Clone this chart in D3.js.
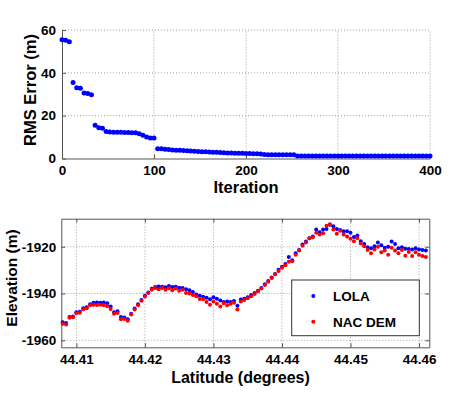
<!doctype html>
<html>
<head>
<meta charset="utf-8">
<title>RMS error and elevation profile</title>
<script src="https://d3js.org/d3.v7.min.js"></script>
<style>
body{margin:0;background:#fff;}
text{font-family:"Liberation Sans",Arial,Helvetica,sans-serif;font-weight:bold;fill:#000;}
</style>
</head>
<body>
<script>
// ---- top panel: RMS error vs iteration (sampled every 4 iterations)
var iterStep = 4;
var rmsError = [
  55.5,55.2,54.5,35.5,33.0,32.8,30.6,30.4,29.8,15.5,
  14.3,14.1,12.6,12.4,12.3,12.2,12.2,12.1,12.1,12.0,
  12.0,11.6,10.8,10.0,9.6,9.6,4.6,4.5,4.3,4.2,
  4.0,3.9,3.8,3.7,3.6,3.5,3.4,3.3,3.2,3.1,
  3.0,2.9,2.9,2.8,2.7,2.6,2.6,2.5,2.4,2.4,
  2.3,2.3,2.2,2.2,2.1,1.9,1.8,1.8,1.8,1.8,
  1.8,1.8,1.8,1.7,1.2,1.2,1.2,1.2,1.2,1.2,
  1.2,1.2,1.2,1.2,1.2,1.2,1.2,1.2,1.2,1.2,
  1.2,1.2,1.2,1.2,1.2,1.2,1.2,1.2,1.2,1.2,
  1.2,1.2,1.2,1.2,1.2,1.2,1.2,1.2,1.2,1.2,1.2
];
var iterTicks = [0,100,200,300,400];
var rmsTicks = [0,20,40,60];

// ---- bottom panel: elevation profile
var latStart = 44.4080, latStep = 0.0005;
var lola = [
  -1952.3,-1952.6,-1950.0,-1949.8,-1948.0,-1947.8,-1946.3,-1945.9,-1944.6,-1944.0,
  -1943.8,-1943.9,-1943.8,-1944.2,-1945.6,-1948.0,-1947.6,-1950.0,-1950.3,-1951.0,
  -1948.6,-1946.4,-1944.6,-1942.8,-1941.0,-1939.6,-1938.0,-1937.2,-1937.0,-1937.1,
  -1937.3,-1936.8,-1937.2,-1937.1,-1937.5,-1937.6,-1938.2,-1938.6,-1939.4,-1940.4,
  -1940.9,-1941.4,-1941.8,-1942.4,-1941.6,-1942.2,-1943.0,-1943.6,-1943.4,-1943.6,
  -1943.2,-1945.2,-1942.6,-1942.2,-1941.6,-1940.6,-1939.8,-1938.8,-1937.6,-1936.0,
  -1934.6,-1933.2,-1931.6,-1929.8,-1928.6,-1927.4,-1924.4,-1925.8,-1922.8,-1921.4,
  -1919.0,-1917.8,-1916.4,-1915.6,-1912.6,-1913.8,-1912.6,-1912.4,-1910.6,-1911.2,
  -1912.4,-1912.8,-1913.4,-1913.4,-1914.0,-1915.8,-1915.2,-1917.6,-1918.8,-1920.2,
  -1920.6,-1919.8,-1918.2,-1919.4,-1920.4,-1920.0,-1917.8,-1918.8,-1920.6,-1920.2,
  -1920.8,-1921.0,-1921.2,-1920.6,-1921.2,-1921.4,-1921.6
];
var nacDem = [
  -1952.9,-1953.3,-1950.4,-1950.2,-1948.4,-1948.2,-1946.7,-1946.3,-1945.0,-1944.8,
  -1944.9,-1944.8,-1945.0,-1945.4,-1946.6,-1948.7,-1948.3,-1951.0,-1950.9,-1951.6,
  -1949.0,-1946.8,-1945.0,-1943.1,-1941.3,-1939.8,-1938.4,-1937.6,-1938.2,-1937.6,
  -1938.4,-1937.7,-1938.6,-1937.9,-1938.8,-1938.4,-1939.8,-1940.0,-1940.6,-1941.2,
  -1942.3,-1942.4,-1943.6,-1944.8,-1943.4,-1944.4,-1945.6,-1944.2,-1945.0,-1944.4,
  -1944.0,-1946.8,-1943.4,-1942.8,-1942.0,-1941.2,-1940.2,-1939.0,-1937.8,-1936.4,
  -1935.0,-1933.4,-1931.8,-1930.4,-1929.0,-1927.9,-1926.4,-1926.2,-1923.4,-1921.6,
  -1919.6,-1918.2,-1916.4,-1915.9,-1914.0,-1914.8,-1914.2,-1911.0,-1910.4,-1912.6,
  -1914.4,-1913.2,-1914.8,-1915.6,-1916.6,-1917.6,-1916.4,-1918.6,-1919.8,-1921.4,
  -1922.8,-1921.2,-1920.0,-1922.4,-1921.6,-1923.4,-1920.4,-1921.6,-1922.8,-1921.4,
  -1923.8,-1922.2,-1924.0,-1922.4,-1923.4,-1924.0,-1924.4
];
var latTicks = [44.41,44.42,44.43,44.44,44.45,44.46];
var elevTicks = [-1960,-1940,-1920];
var legendNames = ["LOLA","NAC DEM"];
var colors = ["#0000ff","#ff0000"];

var width = 474, height = 399;
var svg = d3.select("body").append("svg")
    .attr("width", width)
    .attr("height", height);

var gridColor = "#a0a0a0", axisColor = "#555";

// ===== top panel =====
var x1 = d3.scaleLinear().domain([0,400]).range([62,430]);
var y1 = d3.scaleLinear().domain([0,60]).range([158.5,30]);

var g1 = svg.append("g");
// grid (dotted), also gives the dotted top/right edge
g1.selectAll(".vg").data(iterTicks.slice(1)).enter().append("line")
    .attr("x1",d=>x1(d)).attr("x2",d=>x1(d))
    .attr("y1",y1(0)).attr("y2",y1(60))
    .attr("stroke",gridColor).attr("stroke-dasharray","1,2");
g1.selectAll(".hg").data(rmsTicks.slice(1)).enter().append("line")
    .attr("x1",x1(0)).attr("x2",x1(400))
    .attr("y1",d=>y1(d)).attr("y2",d=>y1(d))
    .attr("stroke",gridColor).attr("stroke-dasharray","1,2");

g1.append("g").attr("transform","translate(0,"+y1(0)+")")
    .call(d3.axisBottom(x1).tickValues(iterTicks).tickSizeInner(-4).tickSizeOuter(0).tickPadding(7));
g1.append("g").attr("transform","translate("+x1(0)+",0)")
    .call(d3.axisLeft(y1).tickValues(rmsTicks).tickSizeInner(-4).tickSizeOuter(0).tickPadding(6));

g1.selectAll(".dot").data(rmsError).enter().append("circle")
    .attr("cx",(d,i)=>x1(i*iterStep))
    .attr("cy",d=>y1(d))
    .attr("r",2.5)
    .attr("fill",colors[0]);

g1.append("text").attr("x",246).attr("y",193).attr("text-anchor","middle")
    .style("font-size","16.5px").text("Iteration");
g1.append("text").attr("transform","translate(36,90) rotate(-90)").attr("text-anchor","middle")
    .style("font-size","16.5px").text("RMS Error (m)");

// ===== bottom panel =====
var x2 = d3.scaleLinear().domain([44.4078,44.4615]).range([61.3,429.3]);
var y2 = d3.scaleLinear().domain([-1963,-1908]).range([347.3,218.7]);

var g2 = svg.append("g");
g2.selectAll(".vg").data(latTicks).enter().append("line")
    .attr("x1",d=>x2(d)).attr("x2",d=>x2(d))
    .attr("y1",y2.range()[0]).attr("y2",y2.range()[1])
    .attr("stroke",gridColor).attr("stroke-dasharray","1,2");
g2.selectAll(".hg").data(elevTicks).enter().append("line")
    .attr("x1",x2.range()[0]).attr("x2",x2.range()[1])
    .attr("y1",d=>y2(d)).attr("y2",d=>y2(d))
    .attr("stroke",gridColor).attr("stroke-dasharray","1,2");

g2.append("g").attr("transform","translate(0,"+y2.range()[0]+")")
    .call(d3.axisBottom(x2).tickValues(latTicks).tickFormat(d3.format(".2f")).tickSizeInner(-4).tickSizeOuter(0).tickPadding(7));
g2.append("g").attr("transform","translate(0,"+y2.range()[1]+")")
    .call(d3.axisTop(x2).tickValues(latTicks).tickFormat("").tickSizeInner(-4).tickSizeOuter(0));
g2.append("g").attr("transform","translate("+x2.range()[0]+",0)")
    .call(d3.axisLeft(y2).tickValues(elevTicks).tickFormat(d=>String(d)).tickSizeInner(-4).tickSizeOuter(0).tickPadding(5));
g2.append("g").attr("transform","translate("+x2.range()[1]+",0)")
    .call(d3.axisRight(y2).tickValues(elevTicks).tickFormat("").tickSizeInner(-4).tickSizeOuter(0));

[lola, nacDem].forEach(function(series, s){
  g2.append("g").selectAll("circle").data(series).enter().append("circle")
      .attr("cx",(d,i)=>x2(latStart + i*latStep))
      .attr("cy",d=>y2(d))
      .attr("r",2)
      .attr("fill",colors[s]);
});

// legend
var lg = g2.append("g");
lg.append("rect").attr("x",291.7).attr("y",280).attr("width",127.6).attr("height",55.7)
    .attr("fill","#fff").attr("stroke","#333").attr("stroke-width",1);
legendNames.forEach(function(name, i){
  var ly = 296 + i*25.7;
  lg.append("circle").attr("cx",313.3).attr("cy",ly).attr("r",2).attr("fill",colors[i]);
  lg.append("text").attr("x",333).attr("y",ly).attr("dy","0.36em")
      .style("font-size","13.5px").text(name);
});

g2.append("text").attr("x",240.5).attr("y",383).attr("text-anchor","middle")
    .style("font-size","16px").text("Latitude (degrees)");
g2.append("text").attr("transform","translate(17,278) rotate(-90)").attr("text-anchor","middle")
    .style("font-size","15.5px").text("Elevation (m)");

// axis styling
svg.selectAll(".domain").attr("stroke",axisColor);
svg.selectAll(".tick line").attr("stroke",axisColor);
svg.selectAll(".tick text").style("font-size","13.5px").style("font-family","'Liberation Sans',Arial,sans-serif").style("font-weight","bold").attr("fill","#000");
</script>
</body>
</html>
